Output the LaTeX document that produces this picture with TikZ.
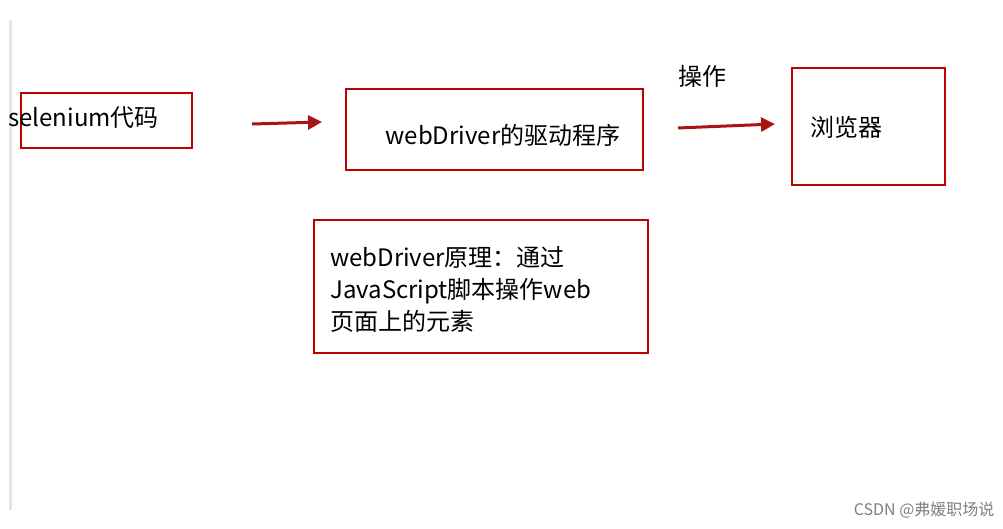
\documentclass[tikz,border=0pt]{standalone}
\usepackage{fontspec}
\setmainfont{Liberation Sans}
\newfontfamily\cjk{Noto Sans CJK SC}
\usetikzlibrary{arrows.meta}
\begin{document}
\begin{tikzpicture}[x=1pt,y=-1pt,
  box/.style={draw={rgb,255:red,192;green,0;blue,0},line width=2pt},
  arr/.style={draw={rgb,255:red,170;green,20;blue,20},line width=3pt,-{Triangle[length=14pt,width=14pt]}},
  txt/.style={font=\fontsize{24}{28}\selectfont\cjk,text=black,inner sep=0pt}]
\useasboundingbox (0,0) rectangle (1003,529);
\fill[white] (0,0) rectangle (1003,529);
\draw[gray!20,line width=3pt] (10,20) -- (10,510);
\node[box,minimum width=171,minimum height=55,anchor=north west] (sel) at (20,92) {};
\node[txt,anchor=west] (selt) at (8,118) {selenium代码};
\node[box,minimum width=297,minimum height=81,anchor=north west] (wd) at (345,88) {};
\node[txt] (wdt) at (503,135) {webDriver的驱动程序};
\node[box,minimum width=153,minimum height=117,anchor=north west] (br) at (791,67) {};
\node[txt] (brt) at (846,127) {浏览器};
\node[txt] (op) at (702,76) {操作};
\node[box,minimum width=334,minimum height=133,anchor=north west] (pr) at (313,219) {};
\node[txt,anchor=north west,align=left,font=\fontsize{24}{32}\selectfont\cjk] (prt) at (330,246) {webDriver原理：通过\\JavaScript脚本操作web\\页面上的元素};
\coordinate (a1) at (252,124);
\draw[arr] (a1) -- ([xshift=-23pt]wd.west |- 0,122);
\draw[arr] (wd.east |- 0,128) ++(34,0) coordinate (a2) -- (775,124) coordinate (a3);
\node[anchor=east,font=\fontsize{16}{18}\selectfont\cjk,text=gray] (wm) at (998,510) {CSDN @弗媛职场说};
\end{tikzpicture}
\end{document}
